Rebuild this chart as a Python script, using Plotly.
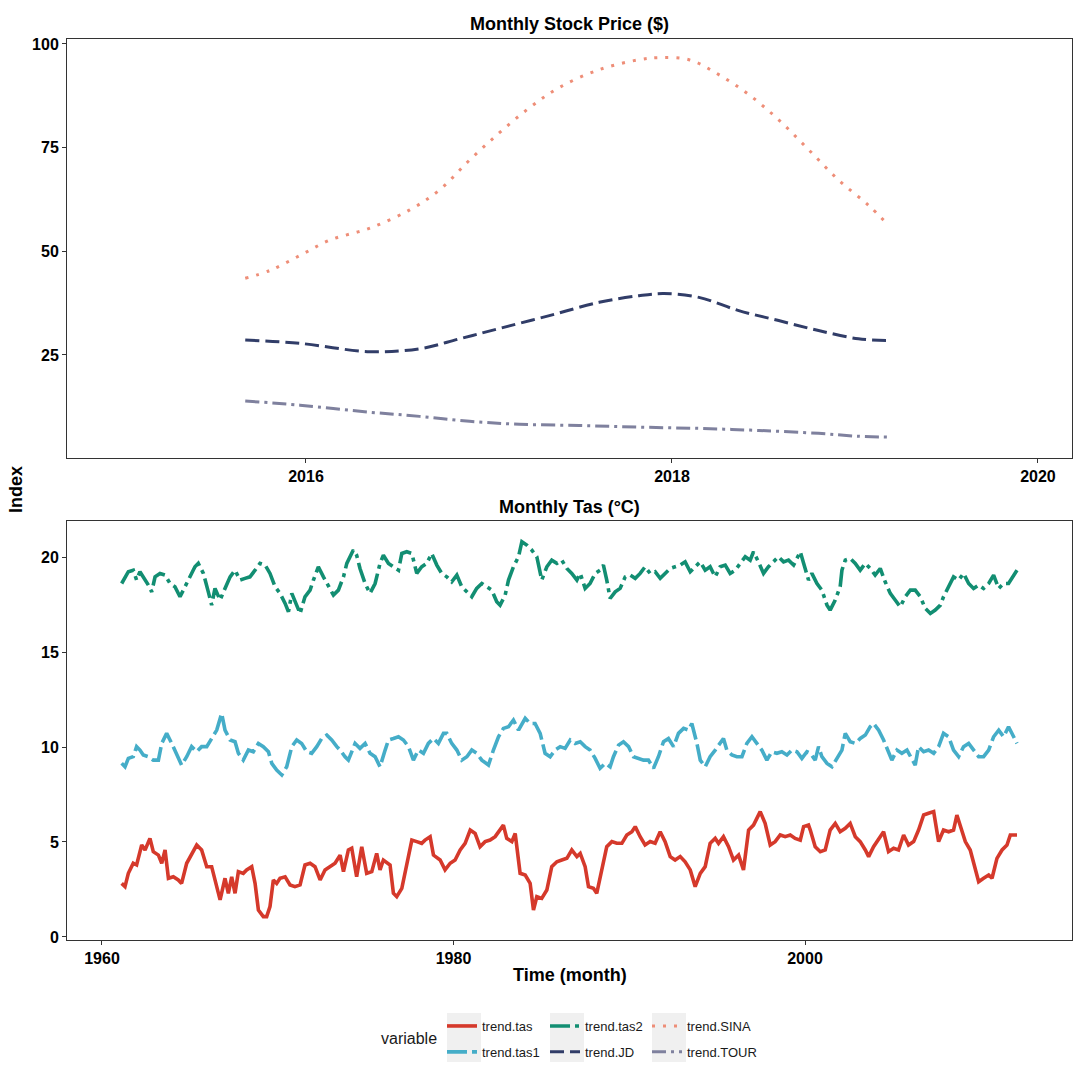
import plotly.graph_objects as go

# ---------------- Top panel: Monthly Stock Price ($) ----------------
sina_t = [2015.668, 2015.804, 2015.967, 2016.131, 2016.349, 2016.567, 2016.730, 2016.894,
          2017.057, 2017.221, 2017.384, 2017.602, 2017.820, 2017.929, 2018.093, 2018.256,
          2018.420, 2018.583, 2018.747, 2018.910, 2019.074, 2019.183]
sina_v = [43.5, 45.4, 49.0, 52.7, 55.6, 60.0, 64.8, 72.0, 78.6, 84.6, 89.5, 93.8, 96.2, 96.7,
          96.2, 92.6, 87.8, 81.7, 74.5, 67.2, 61.1, 56.3]

jd_t = [2015.668, 2015.967, 2016.349, 2016.621, 2016.839, 2017.057, 2017.330, 2017.602,
        2017.820, 2017.956, 2018.147, 2018.365, 2018.583, 2018.801, 2019.019, 2019.183]
jd_v = [28.6, 27.8, 25.8, 26.5, 28.9, 31.4, 34.5, 37.7, 39.3, 39.8, 38.9, 35.7, 33.3, 30.9, 28.9, 28.5]

tour_t = [2015.668, 2015.967, 2016.349, 2016.621, 2016.894, 2017.166, 2017.493, 2017.820,
          2018.147, 2018.474, 2018.801, 2019.019, 2019.183]
tour_v = [13.9, 12.9, 11.2, 10.2, 9.0, 8.3, 8.0, 7.6, 7.3, 6.8, 6.1, 5.4, 5.2]

# ---------------- Bottom panel: Monthly Tas (°C) ----------------
tas_t = [1961.12, 1961.31, 1961.50, 1961.78, 1961.97, 1962.26, 1962.45, 1962.73, 1962.92, 1963.21,
         1963.40, 1963.59, 1963.78, 1964.06, 1964.34, 1964.53, 1964.82, 1965.10, 1965.39, 1965.67,
         1965.96, 1966.24, 1966.53, 1966.72, 1967.00, 1967.19, 1967.38, 1967.57, 1967.76, 1968.04,
         1968.23, 1968.52, 1968.71, 1968.90, 1969.18, 1969.37, 1969.56, 1969.75, 1969.94, 1970.13,
         1970.42, 1970.70, 1970.98, 1971.27, 1971.55, 1971.84, 1972.12, 1972.41, 1972.69, 1972.98,
         1973.26, 1973.55, 1973.74, 1974.02, 1974.21, 1974.49, 1974.78, 1975.06, 1975.35, 1975.63,
         1975.82, 1976.01, 1976.39, 1976.58, 1976.77, 1977.06, 1977.34, 1977.63, 1977.91, 1978.19,
         1978.38, 1978.67, 1978.86, 1979.24, 1979.52, 1979.81, 1980.09, 1980.38, 1980.66, 1980.95,
         1981.23, 1981.51, 1981.80, 1982.08, 1982.37, 1982.65, 1982.84, 1983.03, 1983.32, 1983.51,
         1983.79, 1984.08, 1984.36, 1984.55, 1984.74, 1985.02, 1985.31, 1985.59, 1985.88, 1986.16,
         1986.45, 1986.73, 1987.02, 1987.21, 1987.49, 1987.68, 1987.96, 1988.15, 1988.44, 1988.72,
         1989.01, 1989.29, 1989.58, 1989.86, 1990.15, 1990.34, 1990.62, 1990.90, 1991.19, 1991.47,
         1991.76, 1992.04, 1992.33, 1992.61, 1992.90, 1993.18, 1993.47, 1993.75, 1994.04, 1994.32,
         1994.60, 1994.89, 1995.08, 1995.36, 1995.65, 1995.93, 1996.22, 1996.50, 1996.79, 1997.07,
         1997.45, 1997.73, 1998.02, 1998.30, 1998.59, 1998.87, 1999.16, 1999.44, 1999.73, 1999.92,
         2000.20, 2000.30, 2000.58, 2000.87, 2001.15, 2001.43, 2001.72, 2002.00, 2002.29, 2002.57,
         2002.86, 2003.14, 2003.43, 2003.62, 2003.90, 2004.19, 2004.47, 2004.75, 2005.04, 2005.32,
         2005.61, 2005.89, 2006.18, 2006.46, 2006.75, 2007.03, 2007.32, 2007.60, 2007.88, 2008.17,
         2008.45, 2008.64, 2008.83, 2009.12, 2009.40, 2009.69, 2009.88, 2010.16, 2010.45, 2010.64,
         2010.92, 2011.21, 2011.49, 2011.68, 2011.96, 2012.06]
tas_v = [2.82, 2.65, 3.35, 3.88, 3.79, 4.84, 4.58, 5.19, 4.49, 4.31,
         3.88, 4.58, 3.09, 3.17, 3.00, 2.82, 3.88, 4.40, 4.84, 4.58,
         3.70, 3.70, 2.56, 1.95, 3.09, 2.30, 3.17, 2.30, 3.44, 3.35,
         3.53, 3.70, 2.82, 1.42, 1.07, 1.07, 1.60, 3.00, 2.82, 3.09,
         3.17, 2.74, 2.65, 2.74, 3.79, 3.88, 3.70, 3.00, 3.53, 3.70,
         3.88, 4.31, 3.44, 4.58, 4.67, 3.17, 4.75, 3.35, 3.44, 4.40,
         3.53, 4.05, 3.79, 2.30, 2.12, 2.56, 3.88, 5.10, 5.02, 4.93,
         5.10, 5.28, 4.31, 4.05, 3.53, 3.88, 4.05, 4.58, 4.93, 5.63,
         5.45, 4.75, 5.02, 5.10, 5.28, 5.63, 5.89, 5.19, 5.02, 5.45,
         3.35, 3.26, 2.82, 1.42, 2.12, 2.03, 2.47, 3.70, 3.96, 4.05,
         4.14, 4.58, 4.23, 4.40, 3.70, 2.65, 2.56, 2.30, 3.53, 4.75,
         5.02, 4.93, 4.93, 5.37, 5.54, 5.81, 5.28, 4.84, 5.02, 4.93,
         5.54, 5.02, 4.23, 4.05, 4.23, 3.96, 3.53, 2.65, 3.35, 3.70,
         4.93, 5.19, 4.93, 5.28, 4.75, 4.05, 4.31, 3.53, 5.63, 5.89,
         6.60, 5.98, 4.84, 5.02, 5.37, 5.28, 5.37, 5.19, 5.10, 5.81,
         5.89, 5.63, 4.75, 4.49, 4.58, 5.63, 5.98, 5.54, 5.72, 5.98,
         5.28, 5.02, 4.58, 4.23, 4.75, 5.19, 5.54, 4.49, 4.67, 4.58,
         5.37, 4.84, 5.02, 5.63, 6.42, 6.51, 6.60, 5.02, 5.63, 5.54,
         5.63, 6.42, 5.81, 5.02, 4.58, 3.53, 2.91, 3.09, 3.26, 3.09,
         4.14, 4.58, 4.84, 5.37, 5.37, 5.37]

tas1_t = [1961.12, 1961.31, 1961.50, 1961.78, 1961.97, 1962.16, 1962.35, 1962.64, 1962.92, 1963.21,
          1963.40, 1963.68, 1963.97, 1964.25, 1964.53, 1964.82, 1965.10, 1965.39, 1965.67, 1965.96,
          1966.24, 1966.53, 1966.81, 1967.00, 1967.29, 1967.57, 1967.76, 1968.04, 1968.33, 1968.61,
          1968.90, 1969.18, 1969.47, 1969.66, 1969.94, 1970.23, 1970.51, 1970.80, 1971.08, 1971.36,
          1971.65, 1971.93, 1972.22, 1972.50, 1972.79, 1973.07, 1973.36, 1973.55, 1973.83, 1974.02,
          1974.40, 1974.68, 1974.97, 1975.25, 1975.54, 1975.82, 1976.11, 1976.30, 1976.58, 1976.87,
          1977.15, 1977.44, 1977.72, 1978.00, 1978.29, 1978.57, 1978.86, 1979.14, 1979.43, 1979.62,
          1979.90, 1980.19, 1980.47, 1980.76, 1981.04, 1981.32, 1981.61, 1981.99, 1982.27, 1982.56,
          1982.84, 1983.13, 1983.41, 1983.70, 1984.08, 1984.36, 1984.64, 1984.93, 1985.21, 1985.50,
          1985.78, 1986.07, 1986.35, 1986.64, 1986.92, 1987.21, 1987.49, 1987.77, 1988.06, 1988.34,
          1988.63, 1988.91, 1989.10, 1989.39, 1989.67, 1989.96, 1990.24, 1990.53, 1990.81, 1991.09,
          1991.38, 1991.66, 1991.95, 1992.23, 1992.52, 1992.80, 1993.09, 1993.37, 1993.56, 1993.85,
          1994.04, 1994.32, 1994.60, 1994.89, 1995.17, 1995.36, 1995.55, 1995.84, 1996.12, 1996.41,
          1996.69, 1996.98, 1997.26, 1997.54, 1997.83, 1998.11, 1998.40, 1998.68, 1998.97, 1999.25,
          1999.54, 1999.82, 2000.11, 2000.30, 2000.58, 2000.77, 2000.96, 2001.25, 2001.53, 2001.81,
          2002.10, 2002.29, 2002.57, 2002.86, 2003.14, 2003.43, 2003.71, 2003.90, 2004.19, 2004.47,
          2004.75, 2004.94, 2005.23, 2005.51, 2005.80, 2006.08, 2006.27, 2006.46, 2006.75, 2007.03,
          2007.32, 2007.60, 2007.88, 2008.17, 2008.45, 2008.74, 2009.02, 2009.31, 2009.59, 2009.88,
          2010.16, 2010.45, 2010.73, 2011.02, 2011.30, 2011.58, 2011.87, 2012.06]
tas1_v = [9.14, 8.96, 9.40, 9.49, 10.02, 9.84, 9.58, 9.49, 9.31, 9.31,
          10.19, 10.72, 10.19, 9.67, 9.05, 9.49, 10.02, 9.75, 10.02, 10.02,
          10.45, 10.89, 11.77, 10.89, 10.37, 10.28, 9.67, 9.31, 9.84, 9.75,
          10.19, 10.02, 9.75, 9.14, 8.79, 8.53, 8.96, 10.02, 10.37, 10.19,
          9.75, 9.67, 10.02, 10.45, 10.63, 10.37, 10.02, 9.84, 9.49, 9.31,
          10.19, 9.93, 10.19, 9.67, 9.49, 8.96, 9.84, 10.37, 10.45, 10.54,
          10.37, 10.02, 9.31, 9.84, 9.67, 10.19, 10.45, 10.19, 10.72, 10.72,
          10.19, 9.84, 9.31, 9.49, 9.84, 9.67, 9.31, 9.05, 9.84, 10.54,
          10.98, 11.07, 11.42, 10.89, 11.51, 11.24, 11.24, 10.72, 9.67, 9.49,
          9.84, 10.02, 9.93, 10.37, 10.19, 10.28, 10.02, 9.84, 9.40, 8.88,
          9.14, 8.96, 9.49, 10.10, 10.28, 10.02, 9.49, 9.40, 9.31, 9.31,
          8.88, 9.49, 10.28, 10.45, 10.02, 10.72, 10.98, 10.89, 11.24, 10.19,
          9.31, 8.96, 9.49, 9.84, 10.19, 10.45, 9.84, 9.58, 9.49, 9.49,
          10.19, 10.54, 10.19, 9.84, 9.31, 9.75, 9.67, 9.75, 9.58, 9.84,
          9.75, 9.40, 9.75, 9.67, 9.31, 10.02, 9.49, 9.14, 8.96, 9.40,
          9.84, 10.72, 10.28, 10.19, 10.45, 10.63, 11.07, 11.24, 10.89, 10.37,
          9.67, 9.31, 9.84, 9.67, 9.84, 9.31, 9.05, 10.02, 9.75, 9.84,
          9.67, 10.02, 10.72, 10.54, 9.84, 9.49, 10.02, 10.19, 9.84, 9.49,
          9.49, 9.84, 10.54, 10.89, 10.54, 11.07, 10.54, 10.19]

tas2_t = [1961.12, 1961.31, 1961.50, 1961.78, 1961.97, 1962.16, 1962.35, 1962.64, 1962.83, 1963.02,
          1963.30, 1963.59, 1963.87, 1964.15, 1964.44, 1964.72, 1965.01, 1965.29, 1965.48, 1965.77,
          1966.05, 1966.24, 1966.43, 1966.72, 1967.00, 1967.29, 1967.57, 1967.85, 1968.14, 1968.42,
          1968.71, 1968.99, 1969.28, 1969.56, 1969.85, 1970.13, 1970.42, 1970.61, 1970.80, 1971.08,
          1971.27, 1971.55, 1971.84, 1972.03, 1972.31, 1972.60, 1972.88, 1973.17, 1973.45, 1973.74,
          1973.93, 1974.30, 1974.49, 1974.68, 1974.97, 1975.25, 1975.54, 1975.82, 1976.01, 1976.30,
          1976.58, 1976.87, 1977.06, 1977.34, 1977.63, 1977.91, 1978.19, 1978.48, 1978.76, 1979.05,
          1979.33, 1979.62, 1979.90, 1980.19, 1980.47, 1980.76, 1981.04, 1981.32, 1981.61, 1981.89,
          1982.18, 1982.46, 1982.65, 1982.94, 1983.13, 1983.41, 1983.70, 1983.89, 1984.17, 1984.45,
          1984.74, 1985.02, 1985.31, 1985.59, 1985.88, 1986.16, 1986.45, 1986.73, 1987.02, 1987.21,
          1987.49, 1987.77, 1988.06, 1988.34, 1988.53, 1988.72, 1988.91, 1989.20, 1989.48, 1989.77,
          1990.05, 1990.34, 1990.62, 1990.90, 1991.19, 1991.47, 1991.76, 1992.04, 1992.33, 1992.61,
          1992.90, 1993.18, 1993.47, 1993.75, 1994.04, 1994.32, 1994.60, 1994.89, 1995.17, 1995.46,
          1995.74, 1996.03, 1996.31, 1996.60, 1996.88, 1997.07, 1997.35, 1997.64, 1997.92, 1998.21,
          1998.49, 1998.78, 1999.06, 1999.35, 1999.73, 1999.92, 2000.20, 2000.39, 2000.68, 2000.96,
          2001.25, 2001.43, 2001.72, 2002.00, 2002.10, 2002.29, 2002.57, 2002.86, 2003.14, 2003.43,
          2003.71, 2003.99, 2004.28, 2004.56, 2004.85, 2005.13, 2005.42, 2005.70, 2005.99, 2006.27,
          2006.56, 2006.84, 2007.13, 2007.41, 2007.70, 2007.88, 2008.17, 2008.45, 2008.74, 2009.02,
          2009.31, 2009.59, 2009.88, 2010.16, 2010.45, 2010.73, 2011.02, 2011.30, 2011.58, 2011.87,
          2012.06]
tas2_v = [18.61, 18.96, 19.23, 19.31, 18.79, 19.23, 18.96, 18.53, 18.17, 18.96,
          19.14, 19.05, 18.61, 18.44, 17.91, 18.44, 18.96, 19.49, 19.67, 19.14,
          18.17, 17.47, 18.35, 17.74, 18.35, 18.96, 19.31, 18.79, 18.88, 18.96,
          19.31, 19.67, 19.58, 19.14, 18.44, 18.09, 17.56, 17.12, 18.09, 17.47,
          17.03, 17.91, 18.26, 18.79, 19.49, 18.96, 18.44, 18.00, 18.26, 18.96,
          19.67, 20.37, 20.10, 19.40, 18.61, 18.09, 18.61, 19.67, 20.10, 19.67,
          19.49, 19.31, 20.19, 20.28, 20.19, 19.14, 19.49, 19.67, 20.19, 19.58,
          19.14, 18.96, 18.70, 19.05, 18.44, 18.17, 17.91, 18.35, 18.61, 18.44,
          18.26, 17.65, 17.47, 18.00, 18.79, 19.49, 20.02, 20.81, 20.63, 20.37,
          20.02, 18.79, 19.49, 19.84, 19.67, 19.84, 19.40, 19.14, 18.79, 19.14,
          18.35, 18.61, 19.14, 19.31, 19.58, 18.79, 17.82, 18.17, 18.35, 18.96,
          19.05, 18.88, 19.14, 19.49, 19.14, 19.23, 18.88, 19.14, 19.40, 19.49,
          19.58, 19.75, 19.23, 19.49, 19.75, 19.31, 19.49, 18.96, 19.49, 19.58,
          19.14, 19.31, 19.67, 20.02, 19.84, 20.28, 19.75, 19.14, 19.49, 19.75,
          20.02, 19.75, 19.84, 19.58, 20.28, 19.67, 18.79, 19.14, 18.61, 18.26,
          17.47, 17.21, 17.74, 18.44, 19.31, 19.84, 19.93, 19.67, 19.31, 19.67,
          19.40, 19.05, 19.40, 18.70, 18.09, 17.74, 17.38, 17.91, 18.26, 18.26,
          17.91, 17.30, 17.03, 17.21, 17.47, 17.91, 18.44, 18.96, 18.79, 19.14,
          18.61, 18.35, 18.53, 18.35, 18.61, 19.05, 18.35, 18.61, 18.61, 19.05,
          19.31]

# ---------------- Styling ----------------
FONT = "Liberation Sans, Arial, sans-serif"
AXIS_COL = "#333333"

fig = go.Figure()

# bottom-panel series (x2/y2)
fig.add_trace(go.Scatter(x=tas_t, y=tas_v, mode="lines", name="trend.tas",
                         line=dict(color="#D5392B", width=3.6), xaxis="x2", yaxis="y2",
                         legend="legend", legendgroup="a"))
fig.add_trace(go.Scatter(x=tas1_t, y=tas1_v, mode="lines", name="trend.tas1",
                         line=dict(color="#45ADC8", width=3.6, dash="20px,5px"), xaxis="x2", yaxis="y2",
                         legend="legend", legendgroup="b"))
fig.add_trace(go.Scatter(x=tas2_t, y=tas2_v, mode="lines", name="trend.tas2",
                         line=dict(color="#128E72", width=3.6, dash="20px,5px,4px,5px"), xaxis="x2", yaxis="y2",
                         legend="legend2", legendgroup="c"))
# top-panel series
fig.add_trace(go.Scatter(x=jd_t, y=jd_v, mode="lines", name="trend.JD", line_shape="spline",
                         line=dict(color="#313D68", width=3, dash="14px,6px"), xaxis="x", yaxis="y",
                         legend="legend2", legendgroup="d"))
fig.add_trace(go.Scatter(x=sina_t, y=sina_v, mode="lines", name="trend.SINA", line_shape="spline",
                         line=dict(color="#EE8E78", width=3, dash="3px,8px"), xaxis="x", yaxis="y",
                         legend="legend3", legendgroup="e"))
fig.add_trace(go.Scatter(x=tour_t, y=tour_v, mode="lines", name="trend.TOUR", line_shape="spline",
                         line=dict(color="#7F819E", width=3, dash="14px,5px,3px,5px"), xaxis="x", yaxis="y",
                         legend="legend3", legendgroup="f"))

tickfont = dict(family=FONT, size=16, color="black", weight="bold")
axis_common = dict(showline=True, linecolor=AXIS_COL, linewidth=1, mirror=True,
                   ticks="outside", ticklen=4, tickcolor=AXIS_COL, tickwidth=1,
                   showgrid=False, zeroline=False, tickfont=tickfont, automargin=False)

leg_common = dict(orientation="v", yanchor="top", xanchor="left", y=1 - 1011 / 1080,
                  bgcolor="rgba(0,0,0,0)", borderwidth=0, tracegroupgap=6,
                  font=dict(family=FONT, size=13, color="#1a1a1a"), itemclick=False)

fig.update_layout(
    width=1080, height=1080,
    margin=dict(l=0, r=0, t=0, b=0),
    paper_bgcolor="white", plot_bgcolor="white",
    xaxis=dict(domain=[67 / 1080, 1072 / 1080], range=[2014.694, 2020.186],
               tickvals=[2016, 2018, 2020], ticktext=["2016", "2018", "2020"], anchor="y", **axis_common),
    yaxis=dict(domain=[1 - 458 / 1080, 1 - 39 / 1080], range=[0.16, 101.2],
               tickvals=[25, 50, 75, 100], anchor="x", **axis_common),
    xaxis2=dict(domain=[67 / 1080, 1072 / 1080], range=[1958.01, 2015.19],
                tickvals=[1960, 1980, 2000], anchor="y2", **axis_common),
    yaxis2=dict(domain=[1 - 940 / 1080, 1 - 521 / 1080], range=[-0.16, 21.9],
                tickvals=[0, 5, 10, 15, 20], anchor="x2", **axis_common),
    showlegend=True,
    legend=dict(x=442 / 1080, **leg_common),
    legend2=dict(x=545 / 1080, **leg_common),
    legend3=dict(x=647 / 1080, **leg_common),
)

# legend key backgrounds
for x0 in (447, 550, 652):
    fig.add_shape(type="rect", xref="paper", yref="paper", layer="above",
                  x0=x0 / 1080, x1=(x0 + 34) / 1080, y0=1 - 1062 / 1080, y1=1 - 1013 / 1080,
                  fillcolor="#F0F0F0", line_width=0)

title_font = dict(family=FONT, size=18, color="black", weight="bold")
fig.add_annotation(text="Monthly Stock Price ($)", x=569.5 / 1080, y=1 - 24 / 1080, xref="paper", yref="paper",
                   showarrow=False, font=title_font, xanchor="center", yanchor="middle")
fig.add_annotation(text="Monthly Tas (°C)", x=569.5 / 1080, y=1 - 507 / 1080, xref="paper", yref="paper",
                   showarrow=False, font=title_font, xanchor="center", yanchor="middle")
fig.add_annotation(text="Index", x=16 / 1080, y=1 - 490 / 1080, xref="paper", yref="paper",
                   showarrow=False, textangle=-90, font=dict(family=FONT, size=18, color="black", weight="bold"),
                   xanchor="center", yanchor="middle")
fig.add_annotation(text="Time (month)", x=569.5 / 1080, y=1 - 975 / 1080, xref="paper", yref="paper",
                   showarrow=False, font=dict(family=FONT, size=18, color="black", weight="bold"),
                   xanchor="center", yanchor="middle")
fig.add_annotation(text="variable", x=409 / 1080, y=1 - 1038 / 1080, xref="paper", yref="paper",
                   showarrow=False, font=dict(family=FONT, size=16, color="#1a1a1a"),
                   xanchor="center", yanchor="middle")

fig.write_html("out.html")
